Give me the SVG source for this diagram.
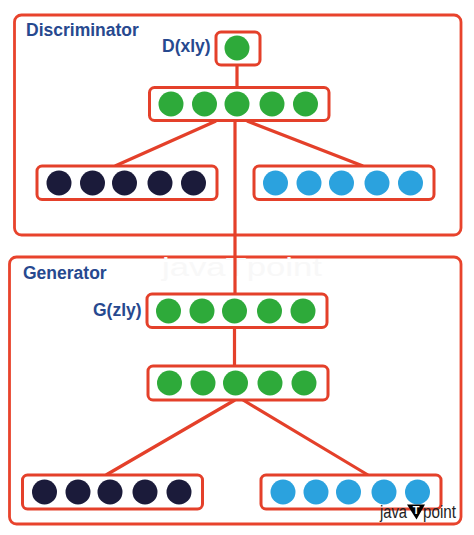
<svg xmlns="http://www.w3.org/2000/svg" width="474" height="535" viewBox="0 0 474 535">
<style>
.box{fill:#fff;stroke:#e4402a;stroke-width:3}
.outer{fill:#fff;stroke:#e8432c;stroke-width:2.8}
.link{stroke:#e4402a;stroke-width:3.2;fill:none}
.g{fill:#2eaa3a}.d{fill:#1b1b3a}.b{fill:#2ba2de}
.lab{font-family:"Liberation Sans",Arial,sans-serif;font-weight:bold;font-size:17.500px;fill:#27498f}
.wm{font-family:"Liberation Sans",Arial,sans-serif;font-size:18px;fill:#222}
</style>
<rect width="474" height="535" fill="#fff"/>
<g id="discriminator"><rect class="outer" x="14.500" y="15" width="446.500" height="220" rx="7"/><text class="lab" x="26" y="36">Discriminator</text></g>
<g id="generator"><rect class="outer" x="9.500" y="257" width="451.500" height="267" rx="7"/><text class="lab" x="23" y="279">Generator</text>
<text x="162" y="276" font-family="Liberation Sans,sans-serif" font-size="26" fill="#f8f8f8" textLength="160" lengthAdjust="spacingAndGlyphs">javaTpoint</text></g>
<g id="connectors">
<path class="link" d="M237 65V87M235 120V294M216 121L115 166M247 121L363 166M234.500 327V366M235 400L106 475M243 400L368 475"/>
</g>
<g id="d-output"><text class="lab" x="162" y="52">D(xly)</text><rect class="box" x="216" y="32" width="44" height="33" rx="5"/><circle class="g" cx="237" cy="48" r="12.500"/></g>
<g id="d-hidden"><rect class="box" x="149.500" y="87.500" width="179.500" height="33" rx="5"/><g class="g"><circle cx="171" cy="104" r="12.500"/><circle cx="204.500" cy="104" r="12.500"/><circle cx="237" cy="104" r="12.500"/><circle cx="272" cy="104" r="12.500"/><circle cx="305.500" cy="104" r="12.500"/></g></g>
<g id="d-input-x"><rect class="box" x="37" y="166" width="180" height="33.500" rx="5"/><g class="d"><circle cx="59" cy="183" r="12.500"/><circle cx="92.500" cy="183" r="12.500"/><circle cx="124.500" cy="183" r="12.500"/><circle cx="160" cy="183" r="12.500"/><circle cx="193.500" cy="183" r="12.500"/></g></g>
<g id="d-input-y"><rect class="box" x="254" y="166" width="180" height="33.500" rx="5"/><g class="b"><circle cx="275.500" cy="183" r="12.500"/><circle cx="309" cy="183" r="12.500"/><circle cx="341.500" cy="183" r="12.500"/><circle cx="377" cy="183" r="12.500"/><circle cx="410.500" cy="183" r="12.500"/></g></g>
<g id="g-output"><text class="lab" x="93" y="316">G(zly)</text><rect class="box" x="147" y="294" width="180" height="33.500" rx="5"/><g class="g"><circle cx="168.500" cy="311" r="12.500"/><circle cx="202" cy="311" r="12.500"/><circle cx="234.500" cy="311" r="12.500"/><circle cx="269.500" cy="311" r="12.500"/><circle cx="303" cy="311" r="12.500"/></g></g>
<g id="g-hidden"><rect class="box" x="148" y="366" width="180" height="34" rx="5"/><g class="g"><circle cx="169.500" cy="383" r="12.500"/><circle cx="203" cy="383" r="12.500"/><circle cx="235.500" cy="383" r="12.500"/><circle cx="270" cy="383" r="12.500"/><circle cx="304" cy="383" r="12.500"/></g></g>
<g id="g-input-z"><rect class="box" x="22.500" y="475" width="180" height="34" rx="5"/><g class="d"><circle cx="44.500" cy="492" r="12.500"/><circle cx="78" cy="492" r="12.500"/><circle cx="110" cy="492" r="12.500"/><circle cx="145" cy="492" r="12.500"/><circle cx="179" cy="492" r="12.500"/></g></g>
<g id="g-input-y"><rect class="box" x="261" y="475" width="180" height="34" rx="5"/><g class="b"><circle cx="283" cy="492" r="12.500"/><circle cx="316" cy="492" r="12.500"/><circle cx="348.500" cy="492" r="12.500"/><circle cx="384" cy="492" r="12.500"/><circle cx="417.500" cy="492" r="12.500"/></g></g>
<g id="watermark"><text class="wm" x="380" y="518" textLength="27" lengthAdjust="spacingAndGlyphs">java</text><text class="wm" x="423" y="518" textLength="33" lengthAdjust="spacingAndGlyphs">point</text><path d="M407 504.500H425L416.500 519.500Z" fill="#000"/><text x="416" y="514" text-anchor="middle" font-family="Liberation Sans,sans-serif" font-weight="bold" font-size="11" fill="#fff">T</text></g>
</svg>
